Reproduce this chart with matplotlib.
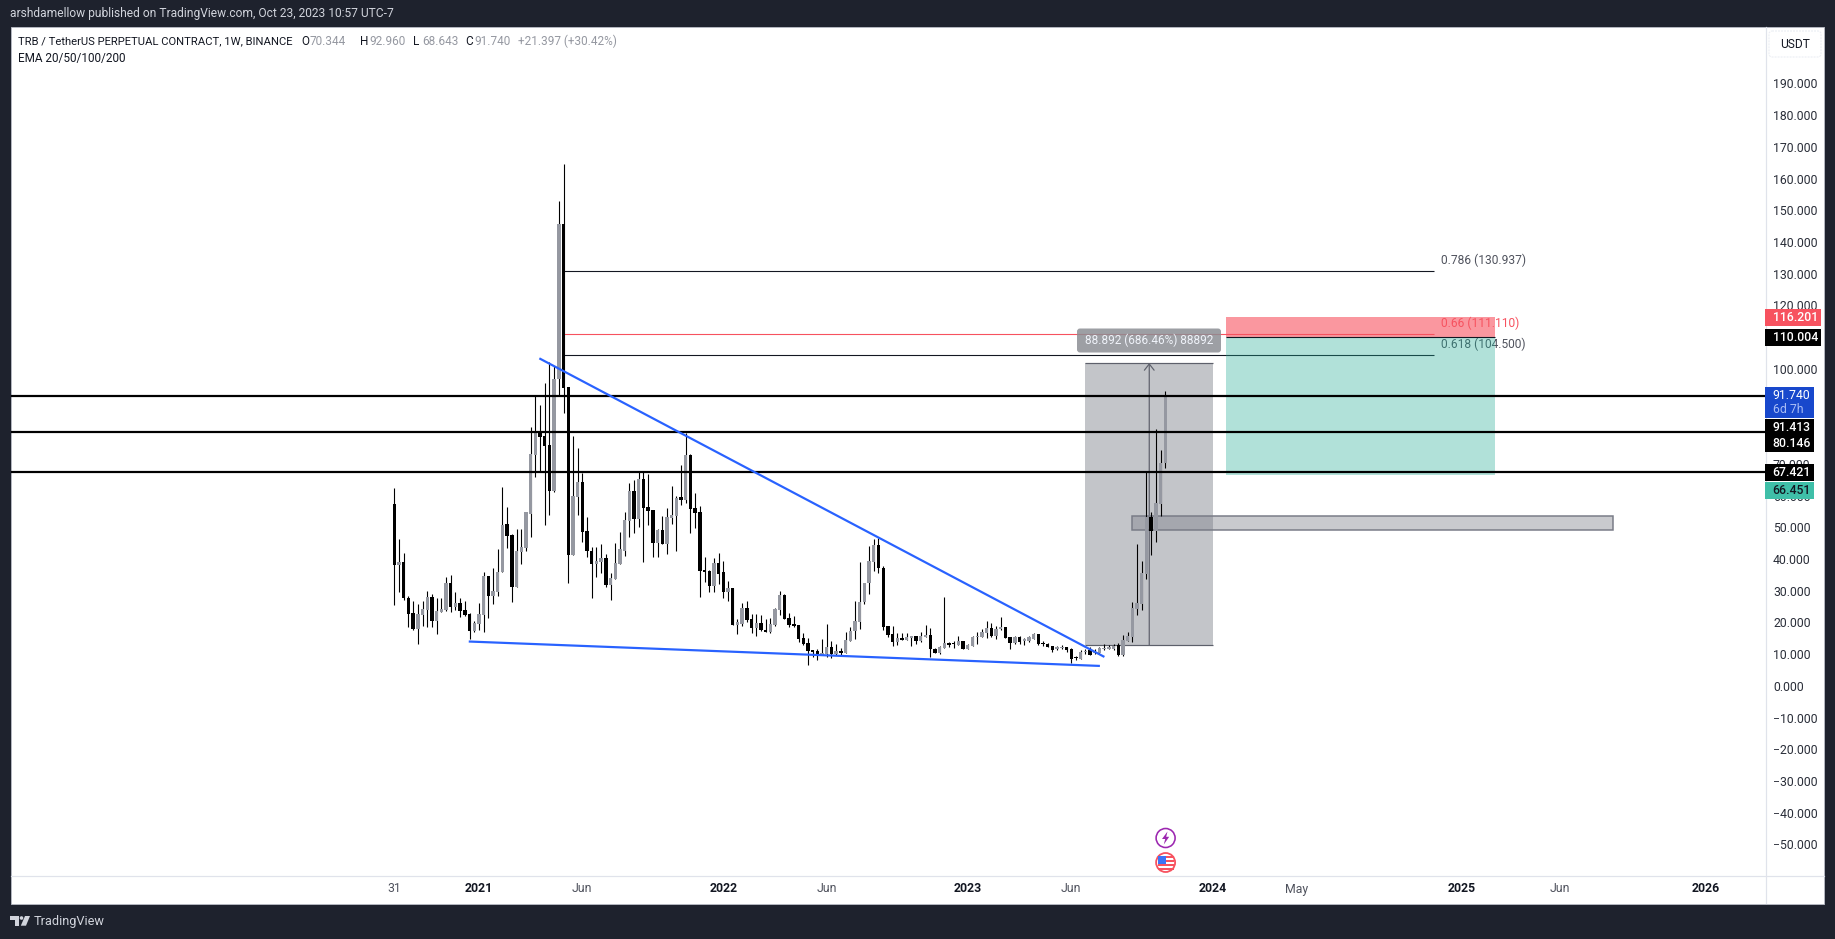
import matplotlib
matplotlib.use('Agg')
import matplotlib.pyplot as plt
from matplotlib.patches import Rectangle, FancyBboxPatch, Circle, Polygon

###############################
# Weekly candles, TRBUSDT perpetual, first bar on 2020-08-31

opens = [57.3,38.0,39.1,27.7,23.0,18.0,22.5,23.9,28.0,20.6,
         23.3,23.9,32.4,25.0,26.1,23.9,22.7,17.3,19.5,22.5,
         34.7,28.4,29.7,35.8,51.0,47.7,31.3,42.1,43.5,54.3,
         72.9,79.8,78.7,75.9,61.5,96.7,145.8,94.2,41.4,59.7,
         64.3,48.8,42.7,38.5,39.1,40.3,31.9,33.6,38.6,42.5,
         52.1,61.5,52.5,65.1,56.3,55.4,45.0,49.1,44.7,52.9,
         53.6,59.5,58.7,72.8,56.2,54.7,36.6,36.3,31.4,38.9,
         35.8,29.5,30.9,19.3,19.5,24.7,21.0,18.3,19.8,17.6,
         17.1,19.2,23.9,28.7,21.3,19.4,19.2,15.1,13.4,11.2,
         10.9,9.7,10.1,12.3,10.1,11.1,10.5,14.3,17.2,20.3,
         26.4,32.3,39.2,44.4,37.1,18.9,16.4,13.9,15.2,14.6,
         15.2,15.7,14.2,15.5,16.0,11.5,10.5,11.8,13.4,13.3,
         12.9,14.1,11.7,12.7,15.3,15.5,16.8,18.3,15.7,17.8,
         18.6,15.4,13.5,15.5,14.3,14.3,14.9,16.3,13.4,13.3,
         12.5,11.5,11.8,12.2,11.6,8.9,8.6,10.7,11.3,10.3,
         10.3,11.5,11.7,11.5,12.9,9.7,14.3,15.5,24.4,25.8,
         35.3,53.2,48.96,57.4,70.344]

closes = [38.0,39.1,27.6,22.8,18.0,22.7,24.2,28.0,20.6,23.6,
          24.2,32.4,25.0,26.1,23.6,22.5,17.3,19.8,22.7,34.7,
          28.4,29.9,35.9,50.7,47.4,31.3,42.5,43.8,54.7,73.1,
          80.1,78.5,75.8,61.5,96.9,145.8,94.0,41.4,59.9,64.3,
          48.6,42.5,38.6,39.4,40.3,31.9,33.9,38.9,43.3,52.3,
          61.5,52.5,65.1,56.2,55.2,45.2,49.1,44.7,53.2,54.0,
          59.3,58.7,72.8,55.9,54.5,36.3,35.9,31.4,38.9,35.4,
          29.7,30.9,19.3,20.3,24.7,20.9,18.4,19.8,17.5,17.0,
          19.5,24.1,28.7,21.2,19.1,18.9,14.8,13.2,11.1,10.8,
          9.7,10.3,12.3,10.1,11.1,10.5,14.5,17.4,20.5,26.5,
          32.3,39.4,44.4,37.1,18.7,16.1,13.9,15.2,14.6,15.5,
          15.7,14.3,15.7,16.1,11.5,10.5,12.4,13.4,12.9,13.1,
          14.2,11.7,12.9,15.5,15.7,17.0,18.3,15.7,18.0,18.5,
          15.2,13.5,15.4,13.9,14.7,15.4,16.3,13.2,13.1,12.4,
          11.3,12.2,12.3,11.3,8.6,8.7,10.8,11.1,9.9,10.8,
          11.8,11.8,12.2,12.6,9.7,14.5,15.7,24.5,26.0,35.5,
          53.4,49.0,57.6,70.2,91.74]

highs = [62.4,46.3,42.0,28.3,26.7,25.8,26.7,29.8,29.1,27.6,
         27.8,34.4,35.0,29.5,27.6,26.7,23.1,20.4,26.3,35.9,
         34.7,37.2,43.2,62.8,56.4,47.9,49.6,49.6,54.9,81.7,
         91.4,88.6,95.5,102.2,100.8,152.8,164.6,94.4,78.7,75.0,
         67.1,53.2,43.8,43.8,44.7,41.6,35.5,45.2,48.5,54.7,
         64.0,64.8,67.6,67.6,66.8,55.4,49.4,53.6,56.0,63.2,
         59.9,69.7,79.8,73.1,60.7,56.8,40.5,36.6,40.3,41.8,
         39.4,33.0,31.0,21.2,26.1,26.7,22.6,22.6,22.3,21.0,
         21.3,24.5,29.9,28.9,22.9,22.0,19.2,16.6,15.0,11.3,
         11.5,14.8,19.5,14.3,13.1,11.8,16.9,18.5,26.8,39.0,
         32.6,44.2,46.2,46.5,37.8,18.9,18.9,16.6,16.6,16.6,
         15.7,15.7,17.1,19.2,18.2,11.8,12.6,28.1,13.9,14.3,
         15.7,14.1,13.1,15.7,17.1,17.8,20.5,19.9,18.9,21.8,
         18.7,15.5,15.7,15.7,15.0,15.7,16.8,16.4,14.1,13.4,
         12.7,12.7,12.9,12.3,11.8,9.5,11.3,11.5,12.2,11.5,
         12.2,13.2,12.9,13.1,13.4,16.0,16.9,26.4,44.9,39.4,
         67.4,54.95,80.9,74.4,92.96]

lows = [25.6,29.5,27.0,18.6,17.7,13.1,18.9,18.7,18.7,16.5,
        23.4,23.6,23.4,23.9,21.7,22.2,14.9,17.0,17.7,17.0,
        21.5,25.9,28.3,35.8,43.6,26.6,31.3,38.6,42.5,46.9,
        66.0,67.6,50.8,54.0,61.0,91.6,86.2,32.5,41.3,53.8,
        45.5,40.5,27.6,34.4,35.5,31.1,27.2,33.6,38.3,41.1,
        46.9,48.3,50.2,39.2,50.8,40.5,40.7,44.7,41.6,51.2,
        42.5,57.1,57.7,48.3,49.9,28.1,32.8,29.5,29.5,32.2,
        27.8,26.7,19.3,16.5,18.9,20.0,16.7,15.8,17.3,17.0,
        16.6,18.9,22.4,21.1,18.7,18.7,13.9,12.9,6.6,9.2,
        8.2,9.7,9.2,8.9,9.7,9.7,10.5,14.3,14.9,18.0,
        25.7,28.9,36.2,35.5,17.6,15.5,12.7,12.9,14.5,14.5,
        12.7,13.1,13.9,15.3,9.2,10.3,10.1,11.8,12.2,11.8,
        12.9,11.5,11.7,12.6,13.3,15.3,15.1,15.5,14.9,17.6,
        15.2,11.6,13.2,13.1,12.9,13.9,14.7,12.9,12.6,12.2,
        10.8,11.3,11.5,10.8,7.1,8.2,8.4,10.1,9.6,10.1,
        10.1,11.3,11.5,11.3,9.4,9.4,14.3,13.95,22.4,23.9,
        33.7,41.3,45.5,53.6,68.643]

# Time axis labels, in weeks since the first bar
tick_weeks = [0, 18, 40, 70, 92, 122, 144, 174, 192, 227, 248, 279]
tick_labels = ['31', '2021', 'Jun', '2022', 'Jun', '2023', 'Jun', '2024', 'May', '2025', 'Jun', '2026']
year_labels = ['2021', '2022', '2023', '2024', '2025', '2026']

# Price axis labels, the ones under the flags at 80, 90 and 110 are left out
price_ticks = [p for p in range(-50, 200, 10) if p not in (80, 90, 110)]

# Drawings
hlines = [91.413, 80.146, 67.421]
last_price = 91.74
fib_levels = [0.786, 0.66, 0.618]
fib_prices = [130.937, 111.110, 104.500]
fib_colors = ['#131722', '#f7525f', '#131722']
fib_start, fib_end = 36.2, 221.2
resist_week = [30.85, 151.06]
resist_price = [103.3, 9.14]
support_week = [15.83, 150.1]
support_price = [14.0, 6.3]
measure_week = [147.0, 174.1]
measure_price = [12.95, 101.84]
measure_mid = 160.6
measure_text = '88.892 (686.46%) 88892'
long_week = [177.0, 234.2]
long_stop, long_entry, long_target = 116.201, 110.004, 66.451
zone_week = [157.0, 259.2]
zone_price = [49.07, 53.5]

###############################
# Layout

W, H = 1835, 939
dark = '#1e222d'
fontname = 'Roboto'
plt.rcParams['font.family'] = [fontname, 'DejaVu Sans']


def px(n):
    # line widths and font sizes are thought of in screen pixels
    return n*0.72


fig = plt.figure(figsize=(W/100, H/100), dpi=100, facecolor=dark)

# Background panel
bg = fig.add_axes([0, 0, 1, 1], zorder=0)
bg.set_xlim(0, W)
bg.set_ylim(H, 0)
bg.set_axis_off()
bg.add_patch(Rectangle((10.5, 27), 1813.5, 876.5, fc='white', ec='#b2b5be', lw=px(1)))
bg.plot([1765.5, 1765.5], [27, 903], color='#e0e3eb', lw=px(1.2))
bg.plot([11, 1824], [876, 876], color='#e0e3eb', lw=px(1.2))

# Chart axes
left, right, top, bottom = 11, 1765.5, 27, 876
ax = fig.add_axes([left/W, 1-bottom/H, (right-left)/W, (bottom-top)/H], zorder=1)
ax.patch.set_alpha(0)
ax.set_xlim(-81.55, 291.7)
ax.set_ylim(-59.95, 207.8)
for s in ax.spines.values():
    s.set_visible(False)

ax.set_xticks(tick_weeks, tick_labels)
ax.yaxis.tick_right()
ax.set_yticks(price_ticks, [('\u2212%.3f' % -p) if p < 0 else '%.3f' % p for p in price_ticks])
ax.tick_params(axis='both', length=0, labelsize=px(12.3), labelcolor='#2a2e39')
ax.tick_params(axis='y', pad=px(7.5))
ax.tick_params(axis='x', pad=px(6.5))
for t in ax.get_xticklabels():
    if t.get_text() in year_labels:
        t.set_color('#131722')
        t.set_fontweight('bold')
    else:
        t.set_color('#50535e')

# Candles
up_color, down_color = '#9598a1', '#000000'
weeks = list(range(len(opens)))
colors = [up_color if c >= o else down_color for o, c in zip(opens, closes)]
ax.vlines(weeks, lows, highs, colors='#000000', lw=px(1.1), zorder=2)
ax.bar(weeks, [max(abs(c-o), 0.35) for o, c in zip(opens, closes)],
       bottom=[min(o, c) for o, c in zip(opens, closes)],
       width=0.72, color=colors, linewidth=0, zorder=2.1)

# Measure box
ax.add_patch(Rectangle((measure_week[0], measure_price[0]), measure_week[1]-measure_week[0],
                       measure_price[1]-measure_price[0], fc='#787b86', alpha=0.44, lw=0, zorder=1))
ax.hlines(measure_price, measure_week[0], measure_week[1], colors='#5d606b', lw=px(1.2), zorder=1.1)
ax.annotate('', xy=(measure_mid, measure_price[1]), xytext=(measure_mid, measure_price[0]),
            arrowprops=dict(arrowstyle='->,head_length=0.45,head_width=0.35', color='#5d606b',
                            lw=px(1.2), shrinkA=0, shrinkB=0), zorder=1.1)

# Grey zone
ax.add_patch(Rectangle((zone_week[0], zone_price[0]), zone_week[1]-zone_week[0],
                       zone_price[1]-zone_price[0], fc='#787b86', alpha=0.4, lw=0, zorder=1.2))
ax.add_patch(Rectangle((zone_week[0], zone_price[0]), zone_week[1]-zone_week[0],
                       zone_price[1]-zone_price[0], fc='none', ec='#787b86', lw=px(1.5), zorder=1.2))

# Fib retracement levels, under the position box
ax.hlines(fib_prices, fib_start, fib_end, colors=fib_colors, lw=px(1.1), zorder=0.5)
for lvl, p, c in zip(fib_levels, fib_prices, fib_colors):
    tcolor = c if c != '#131722' else '#50535e'
    ax.annotate('%g (%.3f)' % (lvl, p), xy=(fib_end, p), xytext=(px(7), px(10.5)),
                textcoords='offset points', ha='left', va='center', fontsize=px(12),
                color=tcolor, zorder=0.5)

# Long position box
ax.add_patch(Rectangle((long_week[0], long_entry), long_week[1]-long_week[0], long_stop-long_entry,
                       fc='#f7525f', alpha=0.6, lw=0, zorder=1))
ax.add_patch(Rectangle((long_week[0], long_target), long_week[1]-long_week[0], long_entry-long_target,
                       fc='#22ab94', alpha=0.35, lw=0, zorder=1))
ax.hlines(long_entry, long_week[0], long_week[1], colors='#131722', lw=px(1.1), zorder=1.1)

# Horizontal levels
ax.axhline(last_price, color='#2962ff', lw=px(1), ls=(0, (1, 1)), zorder=2.9)
ax.hlines(hlines, -81.55, 291.7, colors='#000000', lw=px(2.2), zorder=3)

# Trend lines
ax.plot(resist_week, resist_price, color='#2962ff', lw=px(2.2), zorder=3.2, solid_capstyle='butt')
ax.plot(support_week, support_price, color='#2962ff', lw=px(2.2), zorder=3.2, solid_capstyle='butt')

###############################
# Overlay in screen pixels: header, price flags, markers

ov = fig.add_axes([0, 0, 1, 1], zorder=3)
ov.patch.set_alpha(0)
ov.set_xlim(0, W)
ov.set_ylim(H, 0)
ov.set_axis_off()


def price_y(p):
    return H - ax.transData.transform((0, p))[1]


def label(x, y, s, size=11.7, color='#131722', **kw):
    ov.text(x, y, s, fontsize=px(size), color=color, va='center', **kw)


label(9.5, 14, 'arshdamellow published on TradingView.com, Oct 23, 2023 10:57 UTC-7', size=12, color='#d1d4dc')
label(18, 41.5, 'TRB / TetherUS PERPETUAL CONTRACT, 1W, BINANCE', size=11.2)
label(18, 58.5, 'EMA 20/50/100/200')
for x, a, b in [(301, 'O', '70.344'), (360, 'H', '92.960'), (413, 'L', '68.643'), (465, 'C', '91.740')]:
    label(x, 41.5, a)
    label(x+9, 41.5, b, color='#9598a1')
label(518, 41.5, '+21.397 (+30.42%)', color='#9598a1')

# USDT button
ov.add_patch(FancyBboxPatch((1769, 31), 52, 26, boxstyle='round,pad=0,rounding_size=3',
                            fc='white', ec='#e9ecf2', lw=px(1), ls=(0, (2, 1))))
ov.text(1795, 44, 'USDT', fontsize=px(12), color='#131722', ha='center', va='center')

# Measure label
ov.add_patch(FancyBboxPatch((1077, 328.5), 144, 24, boxstyle='round,pad=0,rounding_size=3',
                            fc='#8c8e94', ec='none', alpha=0.85))
ov.text(1149, 340.3, measure_text, fontsize=px(11.8), color='#f0f3fa', ha='center', va='center')

# Price flags: price, pixels pushed down to avoid overlap, width, fill, text colour
flag_text = ['116.201', '110.004', '91.413', '80.146', '67.421', '66.451']
flag_value = [116.201, 110.004, 91.413, 80.146, 67.421, 66.451]
flag_shift = [0, 0, 31, 11.6, 0.5, 15]
flag_width = [56, 56, 49, 49, 49, 49]
flag_fill = ['#f7525f', '#000000', '#000000', '#000000', '#000000', '#3fbfa8']
flag_ink = ['white', 'white', 'white', 'white', 'white', '#131722']
for s, v, dy, w, f, ink in zip(flag_text, flag_value, flag_shift, flag_width, flag_fill, flag_ink):
    yc = price_y(v) + dy
    ov.add_patch(Rectangle((1765, yc-8.5), w, 17, fc=f, lw=0))
    ov.text(1772.5, yc, s, fontsize=px(12.3), color=ink, va='center', fontweight='medium')

# Last price flag with countdown
yc = price_y(last_price)
ov.add_patch(Rectangle((1765, yc-8.5), 49, 31, fc='#1848cc', lw=0))
ov.text(1772.5, yc+0.5, '%.3f' % last_price, fontsize=px(12.3), color='white', va='center')
ov.text(1772.5, yc+14.5, '6d 7h', fontsize=px(12.3), color='#a9bdf5', va='center')

# Event markers on the time axis
ov.add_patch(Circle((1165.6, 838), 9.5, fc='white', ec='#9c27b0', lw=px(1.6)))
ov.add_patch(Polygon([(1167.5, 831.5), (1162, 839), (1165.2, 839), (1163.8, 844.5),
                      (1169.2, 836.8), (1166.2, 836.8)], fc='#9c27b0', lw=0))
ov.add_patch(Circle((1165.6, 862.5), 9.5, fc='white', ec='#f7525f', lw=px(1.8)))
for yy in [856, 860, 864, 868]:
    ov.add_patch(Rectangle((1158, yy), 15.5, 2, fc='#f7525f', lw=0))
ov.add_patch(Rectangle((1158, 855.5), 8, 8, fc='#3d74f5', lw=0))

# Footer logo
ov.add_patch(Polygon([(10, 916), (19, 916), (19, 925.7), (15, 925.7), (15, 920), (10, 920)], fc='#d1d4dc', lw=0))
ov.add_patch(Circle((21.5, 918), 1.8, fc='#d1d4dc', lw=0))
ov.add_patch(Polygon([(25, 916), (30, 916), (26, 925.7), (20.8, 925.7)], fc='#d1d4dc', lw=0))
label(34, 921, 'TradingView', size=12.7, color='#d1d4dc')

fig.savefig('out.png', dpi=100, facecolor=dark)
